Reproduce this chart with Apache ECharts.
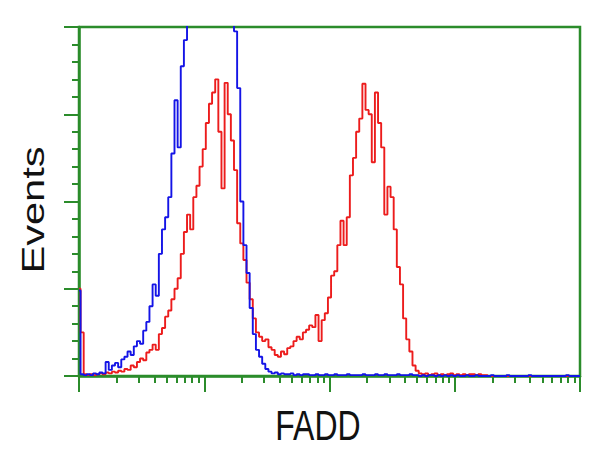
<!DOCTYPE html>
<html><head><meta charset="utf-8">
<script src="https://cdn.jsdelivr.net/npm/echarts@6/dist/echarts.min.js"></script>
<style>html,body{margin:0;padding:0;background:#fff}#c{width:600px;height:450px}</style>
</head><body><div id="c"></div>
<script>
// channel width in decades (log10 units); x axis spans 4 decades
const binStep = 0.025;
const decadeMin = 0, decadeMax = 4;
const majorDecades = [0, 1, 2, 3, 4];
const minorMultipliers = [2, 3, 4, 5, 6, 7, 8, 9];
const yMax = 400, yInterval = 100;
const xTitle = 'FADD';
const yTitle = 'Events';

const blueCounts = [
  98, 2, 1, 2, 1, 3, 2, 4, 3, 16,
  7, 12, 15, 10, 19, 22, 28, 24, 34, 40,
  37, 52, 62, 80, 105, 92, 140, 168, 182, 205,
  255, 316, 262, 355, 385, 430, 430, 430, 430, 430,
  430, 430, 430, 430, 430, 430, 430, 430, 430, 410,
  395, 330, 200, 150, 118, 78, 48, 30, 22, 14,
  8, 5, 3, 4, 2, 3, 2, 2, 3, 1,
  2, 1, 2, 2, 1, 1, 2, 1, 1, 2,
  1, 1, 2, 1, 1, 1, 2, 1, 1, 1,
  1, 2, 1, 1, 1, 2, 1, 1, 2, 1,
  1, 1, 2, 1, 1, 1, 2, 1, 1, 0,
  1, 0, 1, 1, 0, 1, 0, 1, 0, 1,
  0, 1, 0, 0, 1, 0, 0, 1, 0, 0,
  0, 0, 1, 0, 0, 0, 0, 1, 0, 0,
  0, 0, 0, 0, 1, 0, 0, 0, 0, 0,
  0, 0, 0, 0, 0, 0, 1, 0, 0, 0, 0
];
const redCounts = [
  100, 50, 2, 1, 2, 1, 2, 3, 2, 4,
  3, 5, 4, 6, 5, 8, 7, 12, 10, 16,
  20, 18, 27, 30, 36, 30, 48, 55, 68, 75,
  88, 100, 112, 140, 165, 185, 168, 205, 218, 240,
  260, 290, 312, 325, 340, 280, 215, 336, 300, 270,
  236, 175, 152, 133, 107, 88, 66, 50, 45, 40,
  42, 33, 30, 24, 22, 28, 25, 32, 34, 40,
  45, 42, 50, 53, 58, 56, 70, 40, 64, 72,
  90, 115, 120, 150, 178, 150, 182, 230, 250, 280,
  295, 335, 305, 300, 245, 325, 290, 262, 185, 217,
  205, 168, 125, 105, 66, 42, 28, 12, 6, 3,
  2, 3, 1, 2, 3, 1, 2, 1, 2, 3,
  1, 2, 1, 2, 1, 2, 2, 1, 2, 1,
  1, 0, 0, 0, 0, 0, 0, 0, 0, 0,
  0, 0, 0, 0, 0, 0, 0, 0, 0, 0,
  0, 0, 0, 0, 0, 0, 0, 0, 0, 0, 0
];

const green = '#2b8c2b';
const toPairs = arr => arr.map((v, i) => [+(i * binStep).toFixed(4), v]);
const minorTickValues = [];
for (let d = decadeMin; d < decadeMax; d++) {
  minorMultipliers.forEach(m => minorTickValues.push(d + Math.log10(m)));
}

const chart = echarts.init(document.getElementById('c'), null, {renderer: 'svg'});
chart.setOption({
  animation: false,
  backgroundColor: '#ffffff',
  grid: {left: 79, right: 20, top: 27, bottom: 74, show: true, borderColor: green, borderWidth: 2.5, backgroundColor: 'transparent'},
  xAxis: [
    {type: 'value', min: decadeMin, max: decadeMax, interval: 1, position: 'bottom',
     axisLine: {show: true, lineStyle: {color: green, width: 2.5}},
     axisTick: {show: true, inside: false, length: 16, lineStyle: {color: green, width: 2}, customValues: majorDecades},
     axisLabel: {show: false}, splitLine: {show: false}},
    {type: 'value', min: decadeMin, max: decadeMax, position: 'bottom', offset: 0,
     axisLine: {show: false},
     axisTick: {show: true, inside: false, length: 7, lineStyle: {color: green, width: 2}, customValues: minorTickValues},
     axisLabel: {show: false}, splitLine: {show: false}}
  ],
  yAxis: {
    type: 'value', min: 0, max: yMax, interval: yInterval,
    axisLine: {show: true, lineStyle: {color: green, width: 2.5}},
    axisTick: {show: true, inside: false, length: 15, lineStyle: {color: green, width: 2}},
    minorTick: {show: true, splitNumber: 5, length: 7, lineStyle: {color: green, width: 2}},
    axisLabel: {show: false}, splitLine: {show: false}
  },
  graphic: [
    {type: 'text', x: 33, y: 210, rotation: Math.PI / 2, scaleX: 1.3,
     style: {text: yTitle, font: '32px "Liberation Sans", Arial, sans-serif', fill: '#111', textAlign: 'center', textVerticalAlign: 'middle'}},
    {type: 'text', x: 318, y: 425, scaleY: 1.3,
     style: {text: xTitle, font: '32px "Liberation Sans", Arial, sans-serif', fill: '#111', textAlign: 'center', textVerticalAlign: 'middle'}}
  ],
  series: [
    {type: 'line', xAxisIndex: 0, data: toPairs(redCounts), step: 'middle', showSymbol: false, clip: true,
     lineStyle: {color: '#ec1c1c', width: 1.9}},
    {type: 'line', xAxisIndex: 0, data: toPairs(blueCounts), step: 'middle', showSymbol: false, clip: true,
     lineStyle: {color: '#1414e6', width: 1.9}}
  ]
});
</script></body></html>
